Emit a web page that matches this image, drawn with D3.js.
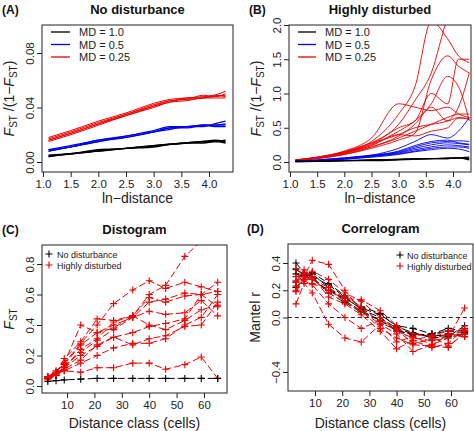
<!DOCTYPE html>
<html><head><meta charset="utf-8">
<script src="https://cdn.jsdelivr.net/npm/d3@7/dist/d3.min.js"></script>
<style>body{margin:0;background:#fff}text{font-family:"Liberation Sans",Arial,sans-serif}</style>
</head><body><svg id="c" width="474" height="431"></svg>
<script>
// ---------- DATA ----------
const lnDist = [1.1,1.5,2.0,2.5,3.0,3.3,3.6,3.9,4.1,4.3];
const aBlack = [[0.004,0.006,0.008,0.010,0.012,0.013,0.014,0.015,0.016,0.015],[0.005,0.006,0.009,0.010,0.012,0.013,0.014,0.015,0.015,0.016],[0.004,0.006,0.008,0.010,0.011,0.013,0.014,0.014,0.015,0.014]];
const aBlue = [[0.008,0.011,0.015,0.018,0.022,0.025,0.026,0.027,0.027,0.028],[0.009,0.012,0.016,0.019,0.022,0.024,0.026,0.026,0.028,0.030],[0.008,0.011,0.015,0.019,0.023,0.026,0.026,0.027,0.026,0.026],[0.009,0.011,0.016,0.018,0.022,0.025,0.025,0.027,0.027,0.027]];
const aRed = [[0.016,0.021,0.028,0.034,0.041,0.045,0.046,0.047,0.048,0.049],[0.018,0.023,0.030,0.036,0.043,0.046,0.047,0.048,0.049,0.052],[0.015,0.020,0.027,0.034,0.040,0.044,0.045,0.047,0.047,0.047],[0.017,0.022,0.029,0.035,0.042,0.045,0.046,0.049,0.048,0.050],[0.016,0.021,0.028,0.035,0.041,0.044,0.047,0.047,0.049,0.048]];
const bBlack = [[0.01,0.01,0.02,0.03,0.04,0.05,0.05,0.06,0.06,0.05],[0.00,0.01,0.02,0.03,0.04,0.04,0.05,0.05,0.06,0.07],[0.01,0.01,0.02,0.02,0.03,0.04,0.05,0.05,0.06,0.03]];
const bBlue = [[0.01,0.03,0.06,0.10,0.20,0.30,0.40,0.35,0.45,0.65],[0.01,0.03,0.06,0.10,0.15,0.22,0.28,0.30,0.31,0.30],[0.01,0.02,0.05,0.09,0.14,0.20,0.25,0.28,0.27,0.25],[0.01,0.02,0.05,0.08,0.13,0.18,0.22,0.25,0.24,0.22],[0.01,0.02,0.04,0.08,0.12,0.16,0.20,0.22,0.22,0.20],[0.01,0.02,0.04,0.07,0.11,0.15,0.18,0.20,0.19,0.15],[0.01,0.02,0.05,0.09,0.16,0.24,0.30,0.32,0.28,0.26]];
const bRed = [[0.03,0.07,0.15,0.30,0.70,1.10,2.05,1.80,1.55,1.45],[0.02,0.06,0.14,0.28,0.55,0.90,1.30,2.10,2.40,2.60],[0.03,0.07,0.16,0.35,0.85,0.80,0.75,0.80,0.70,0.65],[0.02,0.06,0.13,0.25,0.45,0.60,0.85,1.25,1.10,0.60],[0.03,0.07,0.15,0.28,0.40,0.50,0.55,0.60,0.80,1.30],[0.02,0.06,0.12,0.22,0.35,0.45,0.55,0.65,0.70,0.70],[0.03,0.06,0.13,0.24,0.40,0.38,0.45,0.50,0.64,0.64],[0.02,0.05,0.11,0.20,0.32,0.42,1.20,1.55,1.40,1.30],[0.02,0.05,0.11,0.22,0.38,0.55,0.80,0.60,0.65,0.62],[0.02,0.06,0.14,0.26,0.50,0.60,1.00,0.85,1.50,1.50]];
const classes = [3,6,9,15,21,27,34,40,46,53,59,65];
const cBlack = [[0.03,0.035,0.04,0.045,0.05,0.05,0.05,0.05,0.05,0.05,0.05,0.05]];
const cRed = [[0.06,0.09,0.15,0.28,0.40,0.54,0.63,0.69,0.64,0.68,0.65,0.62],[0.05,0.08,0.18,0.29,0.44,0.43,0.46,0.60,0.66,0.85,0.95,null],[0.06,0.10,0.14,0.27,0.35,0.40,0.45,0.55,0.57,0.61,0.60,0.52],[0.05,0.07,0.13,0.22,0.30,0.37,0.45,0.49,0.47,0.48,0.56,0.46],[0.04,0.07,0.12,0.20,0.26,0.32,0.35,0.39,0.41,0.44,0.60,0.68],[0.06,0.09,0.11,0.17,0.27,0.32,0.27,0.31,0.33,0.39,0.40,0.55],[0.05,0.08,0.10,0.15,0.20,0.25,0.28,0.28,0.31,0.40,0.45,0.60],[0.06,0.08,0.10,0.09,0.12,0.12,0.15,0.15,0.11,0.14,0.19,0.05],[0.05,0.07,0.12,0.24,0.31,0.42,0.46,0.58,0.55,0.59,0.60,0.62],[0.06,0.09,0.15,0.40,0.35,0.38,0.46,0.40,0.37,0.43,0.50,0.53]];
const dBlack = [[0.40,0.33,0.30,0.24,0.15,0.06,0.00,-0.08,-0.12,-0.14,-0.12,-0.14],[0.32,0.30,0.32,0.22,0.12,0.05,-0.02,-0.10,-0.12,-0.13,-0.13,-0.12],[0.26,0.31,0.28,0.20,0.14,0.07,0.02,-0.06,-0.08,-0.12,-0.08,-0.10],[0.22,0.28,0.33,0.25,0.16,0.08,0.03,-0.07,-0.11,-0.15,-0.14,-0.06],[0.35,0.32,0.30,0.18,0.11,0.04,-0.02,-0.09,-0.13,-0.12,-0.10,-0.11]];
const dRed = [[0.20,0.30,0.42,0.39,0.20,0.05,-0.08,-0.15,-0.20,-0.21,-0.22,-0.10],[0.10,0.25,0.18,-0.05,-0.15,-0.18,-0.05,-0.12,-0.25,-0.20,-0.15,-0.12],[0.26,0.35,0.30,0.15,0.10,0.02,-0.10,-0.23,-0.17,-0.22,-0.19,-0.08],[0.19,0.28,0.34,0.28,0.18,0.12,0.00,-0.10,-0.15,-0.17,-0.15,0.07],[0.30,0.32,0.25,0.20,0.12,0.05,-0.05,-0.18,-0.14,-0.20,-0.13,-0.10],[0.36,0.30,0.28,0.22,0.14,0.13,0.05,-0.06,-0.12,-0.14,-0.21,-0.12],[0.23,0.27,0.24,0.10,0.00,-0.08,-0.02,-0.08,-0.17,-0.13,-0.10,-0.09],[0.27,0.33,0.29,0.18,0.15,0.08,-0.04,-0.09,-0.19,-0.16,-0.12,-0.14]];

// ---------- DRAW ----------
const svg = d3.select("#c");
function panel(o){
  const g = svg.append("g");
  const x = d3.scaleLinear().domain(o.xd).range(o.xr);
  const y = d3.scaleLinear().domain(o.yd).range(o.yr);
  const cid = "clip"+o.id;
  svg.append("clipPath").attr("id",cid).append("rect").attr("x",o.box[0]).attr("y",o.box[1]).attr("width",o.box[2]-o.box[0]).attr("height",o.box[3]-o.box[1]);
  const body = g.append("g").attr("clip-path",`url(#${cid})`);
  o.draw(body,x,y);
  g.append("rect").attr("x",o.box[0]).attr("y",o.box[1]).attr("width",o.box[2]-o.box[0]).attr("height",o.box[3]-o.box[1]).attr("fill","none").attr("stroke","#222");
  const xa = g.append("g").attr("transform",`translate(0,${o.box[3]})`).call(d3.axisBottom(x).tickValues(o.xt).tickFormat(o.xf).tickSize(5).tickPadding(3));
  const ya = g.append("g").attr("transform",`translate(${o.box[0]},0)`).call(d3.axisLeft(y).tickValues(o.yt).tickFormat(o.yf).tickSize(5).tickPadding(3));
  [xa,ya].forEach(a=>{a.select(".domain").remove();a.selectAll("text").attr("font-size",11.5).attr("fill","#222").attr("font-family","Liberation Sans");a.selectAll("line").attr("stroke","#222");});
  ya.selectAll(".tick text").attr("text-anchor","middle").attr("x",0).attr("y",0).attr("dy","0").attr("transform","translate(-8,0) rotate(-90)");
  svg.append("text").attr("x",(o.box[0]+o.box[2])/2).attr("y",o.xlabY).attr("text-anchor","middle").attr("font-size",14).attr("fill","#222").text(o.xlab);
  svg.append("text").attr("x",(o.box[0]+o.box[2])/2).attr("y",o.box[1]-11).attr("text-anchor","middle").attr("font-size",13).attr("font-weight","bold").attr("fill","#111").text(o.title);
  svg.append("text").attr("x",o.letterX).attr("y",o.box[1]-11).attr("font-size",12).attr("font-weight","bold").attr("fill","#111").text(o.letter);
  const yl = svg.append("text").attr("transform",`translate(${o.box[0]-28},${(o.box[1]+o.box[3])/2}) rotate(-90)`).attr("text-anchor","middle").attr("font-size",14).attr("fill","#222");
  o.ylab(yl);
}
function fstLab(t){
  t.append("tspan").attr("font-style","italic").text("F");
  t.append("tspan").attr("font-size",10).attr("dy",3).text("ST");
  t.append("tspan").attr("dy",-3).text(" /(1\u2212");
  t.append("tspan").attr("font-style","italic").text("F");
  t.append("tspan").attr("font-size",10).attr("dy",3).text("ST");
  t.append("tspan").attr("dy",-3).text(")");
}
function smoothLines(g,x,y,sets){
  const line=d3.line().defined(d=>d[1]!=null).x(d=>x(d[0])).y(d=>y(d[1])).curve(d3.curveMonotoneX);
  sets.forEach(([arr,col,w])=>arr.forEach(s=>g.append("path").attr("d",line(lnDist.map((v,i)=>[v,s[i]]))).attr("fill","none").attr("stroke",col).attr("stroke-width",w)));
}
function legendLines(items,x0,x1,tx,y0,dy){
  items.forEach(([lab,col],i)=>{
    svg.append("line").attr("x1",x0).attr("x2",x1).attr("y1",y0+i*dy).attr("y2",y0+i*dy).attr("stroke",col).attr("stroke-width",1.3);
    svg.append("text").attr("x",tx).attr("y",y0+i*dy+4).attr("font-size",11).attr("fill","#222").text(lab);
  });
}
function plus(g,px,py,col,s){g.append("path").attr("d",`M${px-s},${py}H${px+s}M${px},${py-s}V${py+s}`).attr("stroke",col).attr("stroke-width",1.1);}
function dashedPlus(g,x,y,sets){
  const line=d3.line().defined(d=>d[1]!=null).x(d=>x(d[0])).y(d=>y(d[1]));
  sets.forEach(([arr,col])=>arr.forEach(s=>{
    const pts=classes.map((v,i)=>[v,s[i]]);
    g.append("path").attr("d",line(pts)).attr("fill","none").attr("stroke",col).attr("stroke-width",1).attr("stroke-dasharray","7,3");
    pts.filter(p=>p[1]!=null).forEach(p=>plus(g,x(p[0]),y(p[1]),col,3.5));
  }));
}
function legendPlus(items,px,tx,y0,dy){
  items.forEach(([lab,col],i)=>{plus(svg,px,y0+i*dy,col,3.5);
    svg.append("text").attr("x",tx).attr("y",y0+i*dy+3.5).attr("font-size",9).attr("fill","#222").text(lab);});
}
const f1=d3.format(".1f"), f2=d3.format(".2f");
panel({id:"A",box:[42,25,233,172],xd:[1,4],xr:[43,209],yd:[0,0.08],yr:[162,53],xt:[1,1.5,2,2.5,3,3.5,4],yt:[0,0.04,0.08],xf:f1,yf:f2,xlabY:203,xlab:"ln\u2212distance",title:"No disturbance",letter:"(A)",letterX:2,ylab:fstLab,
  draw:(g,x,y)=>smoothLines(g,x,y,[[aBlack,"#000",1.5],[aBlue,"#0000ee",1.2],[aRed,"#ee0000",1]])});
legendLines([["MD = 1.0","#000"],["MD = 0.5","#0000ee"],["MD = 0.25","#ee0000"]],51,70,79,32,12.5);
panel({id:"B",box:[289,25,471,172],xd:[1,4],xr:[290,453],yd:[0,2],yr:[162,25],xt:[1,1.5,2,2.5,3,3.5,4],yt:[0,0.5,1,1.5,2],xf:f1,yf:f1,xlabY:203,xlab:"ln\u2212distance",title:"Highly disturbed",letter:"(B)",letterX:249,ylab:fstLab,
  draw:(g,x,y)=>smoothLines(g,x,y,[[bRed,"#ee0000",0.9],[bBlue,"#0000ee",0.9],[bBlack,"#000",1.2]])});
legendLines([["MD = 1.0","#000"],["MD = 0.5","#0000ee"],["MD = 0.25","#ee0000"]],298,316,325,32,12.5);
panel({id:"C",box:[42,245,227,393],xd:[10,60],xr:[67,204],yd:[0,0.8],yr:[386,264],xt:[10,20,30,40,50,60],yt:[0,0.2,0.4,0.6,0.8],xf:d3.format("d"),yf:f1,xlabY:428,xlab:"Distance class (cells)",title:"Distogram",letter:"(C)",letterX:2,
  ylab:t=>{t.append("tspan").attr("font-style","italic").text("F");t.append("tspan").attr("font-size",10).attr("dy",3).text("ST");},
  draw:(g,x,y)=>dashedPlus(g,x,y,[[cRed,"#ee0000"],[cBlack,"#000"]])});
legendPlus([["No disturbance","#000"],["Highly disturbed","#ee0000"]],49,57,254,11);
panel({id:"D",box:[288,244,473,391],xd:[10,60],xr:[315,451],yd:[-0.4,0.4],yr:[372,263],xt:[10,20,30,40,50,60],yt:[-0.4,0,0.2,0.4],xf:d3.format("d"),yf:f1,xlabY:428,xlab:"Distance class (cells)",title:"Correlogram",letter:"(D)",letterX:247,
  ylab:t=>t.text("Mantel r"),
  draw:(g,x,y)=>{g.append("line").attr("x1",x(0)).attr("x2",x(70)).attr("y1",y(0)).attr("y2",y(0)).attr("stroke","#222").attr("stroke-dasharray","4,3");dashedPlus(g,x,y,[[dBlack,"#000"],[dRed,"#ee0000"]]);}});
legendPlus([["No disturbance","#000"],["Highly disturbed","#ee0000"]],400,407,255,11);
</script></body></html>
